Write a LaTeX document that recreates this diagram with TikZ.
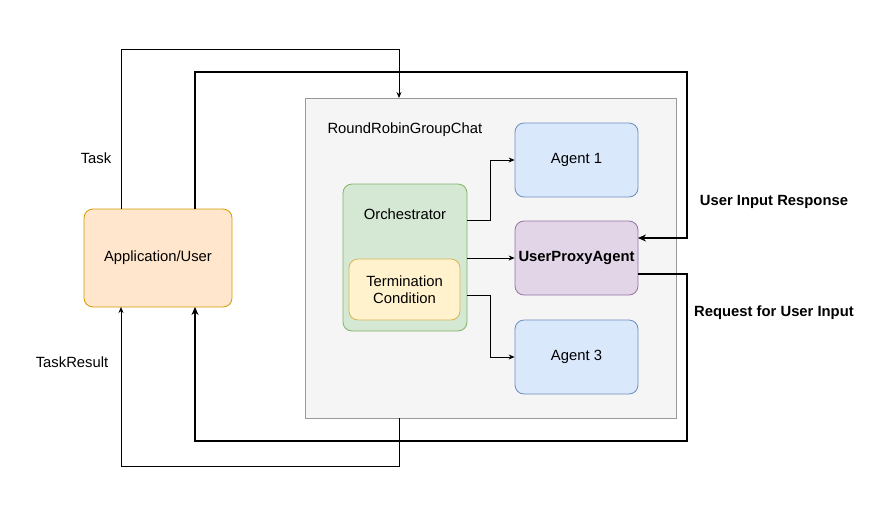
\documentclass[tikz,border=0pt]{standalone}
\usepackage{fontspec}
\setmainfont{Liberation Sans}
\usetikzlibrary{arrows.meta}
\definecolor{bfill}{HTML}{DAE8FC}\definecolor{bdraw}{HTML}{6C8EBF}
\definecolor{pfill}{HTML}{E1D5E7}\definecolor{pdraw}{HTML}{9673A6}
\definecolor{gfill}{HTML}{D5E8D4}\definecolor{gdraw}{HTML}{82B366}
\definecolor{yfill}{HTML}{FFF2CC}\definecolor{ydraw}{HTML}{D6B656}
\definecolor{ofill}{HTML}{FFE6CC}\definecolor{odraw}{HTML}{D79B00}
\begin{document}
\begin{tikzpicture}[x=1pt,y=-1pt,font=\fontsize{14.8}{17.5}\selectfont,
 box/.style={draw,rounded corners=9pt,line width=0.8pt,align=center,inner sep=0pt},
 thin/.style={draw,line width=0.8pt,-{Stealth[length=6pt,width=5pt]}},
 thick/.style={draw,line width=2pt,-{Stealth[length=8pt,width=7pt]}}]
\useasboundingbox (0,0) rectangle (892,528);
\node[draw=gray!80,fill=gray!8,minimum width=371,minimum height=320,inner sep=0pt,anchor=north west] (grp) at (305,98) {};
\node[anchor=west] (lbl) at (324,130) {RoundRobinGroupChat};
\node[box,fill=bfill,draw=bdraw,minimum width=123,minimum height=74] (a1) at (576.5,160) {Agent 1};
\node[box,fill=pfill,draw=pdraw,minimum width=123,minimum height=74,font=\fontsize{14.8}{17.5}\selectfont\bfseries] (up) at (576.5,258) {UserProxyAgent};
\node[box,fill=bfill,draw=bdraw,minimum width=123,minimum height=74] (a3) at (576.5,357) {Agent 3};
\node[box,fill=gfill,draw=gdraw,minimum width=124,minimum height=147] (orc) at (405,257.5) {};
\node (orcl) at (405,214) {Orchestrator};
\node[box,fill=yfill,draw=ydraw,minimum width=111,minimum height=61] (tc) at (404.5,289.5) {Termination\\Condition};
\node[box,fill=ofill,draw=odraw,minimum width=148,minimum height=98] (app) at (158,258) {Application/User};
\node (task) at (96,158) {Task};
\node (tr) at (72,362) {TaskResult};
\node[font=\fontsize{14.8}{17.5}\selectfont\bfseries] (uir) at (774,202) {User Input Response};
\node[font=\fontsize{14.8}{17.5}\selectfont\bfseries] (rui) at (774,313) {Request for User Input};
\draw[thin] (467,220) -- (490,220) -- (490,160) -- (a1.west);
\draw[thin] (467,258) -- (up.west);
\draw[thin] (467,295) -- (490,295) -- (490,357) -- (a3.west);
\draw[thin] (121,209) -- (121,49) -- (399,49) -- (399,98);
\draw[thin] (399,418) -- (399,466) -- (121,466) -- (121,307);
\draw[thick] (195,209) -- (195,72) -- (687,72) -- (687,238) -- (638,238);
\draw[thick] (638,274) -- (687,274) -- (687,441) -- (195,441) -- (195,307);
\end{tikzpicture}
\end{document}
